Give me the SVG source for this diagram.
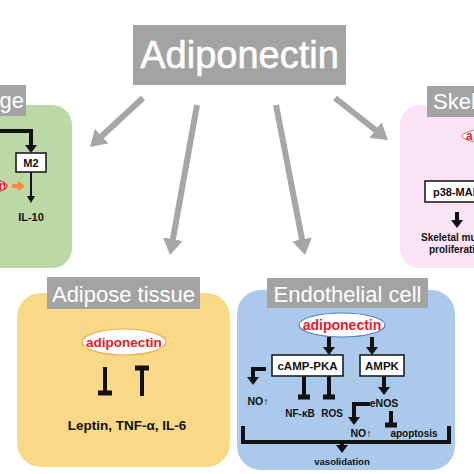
<svg xmlns="http://www.w3.org/2000/svg" width="474" height="474" viewBox="0 0 474 474">
<defs>
<style>
.lbl{fill:#a3a3a3}
.lt{font-family:"Liberation Sans",Arial,sans-serif;font-size:22px;fill:#fff}
.b{font-family:"Liberation Sans",Arial,sans-serif;font-weight:bold;fill:#111}
.red{font-family:"Liberation Sans",Arial,sans-serif;font-weight:bold;fill:#e3202a}
.ga{stroke:#a6a6a6;stroke-width:6;fill:none;marker-end:url(#gh)}
.k{stroke:#111;stroke-width:4;fill:none}
.ka{stroke:#111;stroke-width:4;fill:none;marker-end:url(#kh);stroke-linejoin:miter}
.bar{stroke:#111;stroke-width:5;fill:none}
.box{fill:#fff;stroke:#111;stroke-width:1.5}
</style>
<marker id="gh" markerUnits="userSpaceOnUse" markerWidth="18" markerHeight="20" refX="1" refY="10" orient="auto"><path d="M0,0 L16,10 L0,20 z" fill="#a6a6a6"/></marker>
<marker id="kh" markerUnits="userSpaceOnUse" markerWidth="10" markerHeight="12" refX="1" refY="6" orient="auto"><path d="M0,0 L8,6 L0,12 z" fill="#111"/></marker>
<marker id="th" markerUnits="userSpaceOnUse" markerWidth="8" markerHeight="8" refX="1" refY="4" orient="auto"><path d="M0,0 L7,4 L0,8 z" fill="#111"/></marker>
<marker id="oh" markerUnits="userSpaceOnUse" markerWidth="8" markerHeight="10" refX="1" refY="5" orient="auto"><path d="M0,0 L7,5 L0,10 z" fill="#f28a3a"/></marker>
</defs>

<g id="title">
<rect x="133" y="25" width="213" height="60" class="lbl"/>
<text x="239.5" y="68" text-anchor="middle" font-family="'Liberation Sans',Arial,sans-serif" font-size="38" fill="#fff" stroke="#fff" stroke-width="0.6">Adiponectin</text>
</g>

<g id="connectors">
<line x1="143" y1="98" x2="101" y2="136.8" class="ga"/>
<line x1="197" y1="105" x2="172.7" y2="240.2" class="ga"/>
<line x1="276" y1="105" x2="302.2" y2="240.3" class="ga"/>
<line x1="335" y1="98" x2="376.2" y2="130.7" class="ga"/>
</g>

<g id="macrophage">
<rect x="-30" y="105" width="102" height="163" rx="20" fill="#bcd8a5"/>
<rect x="-5" y="85" width="31" height="31" class="lbl"/>
<text x="24" y="108" text-anchor="end" class="lt">ge</text>
<path d="M0,131 H31 V146" class="ka"/>
<rect x="16" y="153" width="30" height="19" class="box"/>
<text x="31" y="166.5" text-anchor="middle" class="b" font-size="11">M2</text>
<line x1="31" y1="172" x2="31" y2="197" stroke="#111" stroke-width="2" marker-end="url(#th)"/>
<text x="31" y="221" text-anchor="middle" class="b" font-size="11">IL-10</text>
<ellipse cx="-33" cy="186" rx="40" ry="9" fill="#fff" stroke="#d83030" stroke-width="1.2"/>
<text x="6" y="190" text-anchor="end" class="red" font-size="12">n</text>
<line x1="12" y1="186" x2="19" y2="186" stroke="#f28a3a" stroke-width="4" marker-end="url(#oh)"/>
</g>

<g id="skeletal">
<rect x="400" y="105" width="100" height="163" rx="20" fill="#fae3f4"/>
<rect x="427" y="86" width="60" height="31" class="lbl"/>
<text x="433" y="109" class="lt">Skele</text>
<ellipse cx="502" cy="136" rx="40" ry="8" fill="#fff" stroke="#e06a6a" stroke-width="1"/>
<text x="466" y="140" class="red" font-size="12">a</text>
<rect x="425" y="181" width="60" height="21" class="box"/>
<text x="433" y="196" class="b" font-size="11">p38-MAP</text>
<line x1="457" y1="212" x2="457" y2="221" class="ka"/>
<text x="421" y="241" class="b" font-size="10">Skeletal mus</text>
<text x="429" y="253" class="b" font-size="10">proliferatio</text>
</g>

<g id="adipose">
<rect x="17" y="293" width="213" height="174" rx="24" fill="#f9d987"/>
<rect x="47" y="277" width="153" height="32" class="lbl"/>
<text x="123.5" y="302" text-anchor="middle" class="lt">Adipose tissue</text>
<ellipse cx="124" cy="342" rx="42" ry="13" fill="#fff" stroke="#eeb04a" stroke-width="1.2"/>
<text x="124" y="347" text-anchor="middle" class="red" font-size="13.5">adiponectin</text>
<line x1="105" y1="367" x2="105" y2="393" class="k"/>
<line x1="98" y1="393" x2="112" y2="393" class="bar"/>
<line x1="142" y1="368" x2="142" y2="396" class="k"/>
<line x1="135" y1="368" x2="149" y2="368" class="bar"/>
<text x="127" y="430" text-anchor="middle" class="b" font-size="13.5">Leptin, TNF-α, IL-6</text>
</g>

<g id="endothelial">
<rect x="237" y="290" width="218" height="180" rx="24" fill="#abc9ea"/>
<rect x="267" y="278" width="161" height="30" class="lbl"/>
<text x="347.5" y="302" text-anchor="middle" class="lt">Endothelial cell</text>
<ellipse cx="342" cy="325" rx="43" ry="12" fill="#fff" stroke="#4f81bd" stroke-width="1.2"/>
<text x="342" y="330" text-anchor="middle" class="red" font-size="14">adiponectin</text>
<line x1="329" y1="337" x2="329" y2="348" class="ka"/>
<line x1="372" y1="337" x2="372" y2="348" class="ka"/>
<rect x="272" y="355" width="71" height="21" class="box"/>
<text x="307.5" y="370" text-anchor="middle" class="b" font-size="11.5">cAMP-PKA</text>
<rect x="360" y="355" width="44" height="21" class="box"/>
<text x="382" y="370" text-anchor="middle" class="b" font-size="11.5">AMPK</text>
<path d="M266,369 H253 V378" class="ka"/>
<text x="258" y="405" text-anchor="middle" class="b" font-size="10.5">NO↑</text>
<line x1="304" y1="376" x2="304" y2="397" class="k"/>
<line x1="298" y1="397" x2="310" y2="397" class="bar"/>
<line x1="329" y1="376" x2="329" y2="397" class="k"/>
<line x1="323" y1="397" x2="335" y2="397" class="bar"/>
<text x="300" y="417" text-anchor="middle" class="b" font-size="10">NF-κB</text>
<text x="332" y="417" text-anchor="middle" class="b" font-size="10">ROS</text>
<line x1="384" y1="376" x2="384" y2="388" class="ka"/>
<text x="384" y="407" text-anchor="middle" class="b" font-size="10.5">eNOS</text>
<path d="M370,404 H354 V418" class="ka"/>
<text x="361" y="437" text-anchor="middle" class="b" font-size="10.5">NO↑</text>
<line x1="391" y1="411" x2="391" y2="425" class="k"/>
<line x1="385" y1="425" x2="397" y2="425" class="bar"/>
<text x="414" y="437" text-anchor="middle" class="b" font-size="10">apoptosis</text>
<path d="M243,426 V442 H449 V426" class="k"/>
<line x1="342" y1="442" x2="342" y2="446" class="ka"/>
<text x="342" y="465" text-anchor="middle" class="b" font-size="9.5">vasolidation</text>
</g>
</svg>
